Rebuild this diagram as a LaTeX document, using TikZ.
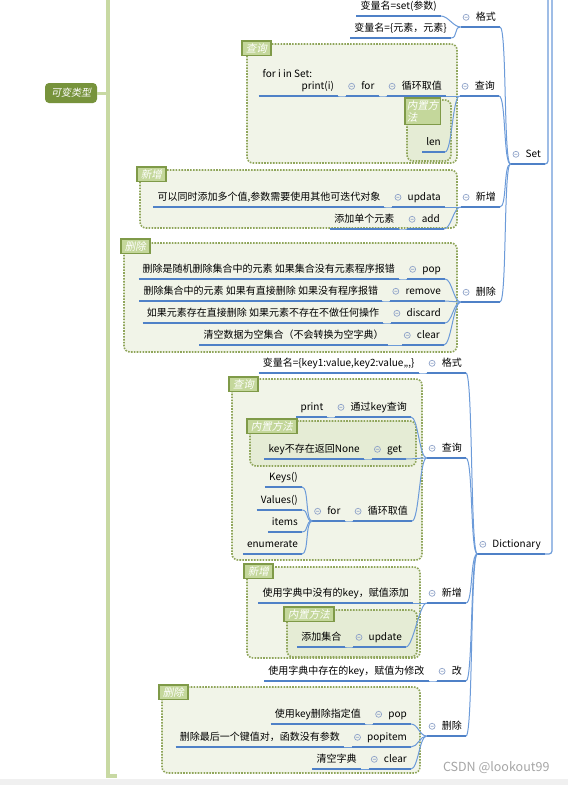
\documentclass[tikz,border=0pt]{standalone}
\usepackage{fontspec}
\setmainfont{Noto Sans CJK SC}
\newfontfamily\slantfont[FakeSlant=0.2]{Noto Sans CJK SC}
\usetikzlibrary{positioning}
\definecolor{rootgreen}{HTML}{77933C}
\definecolor{tabfill}{HTML}{C4D79B}
\definecolor{tabline}{HTML}{7F9A48}
\definecolor{grpfill}{HTML}{F1F4E8}
\definecolor{grpinner}{HTML}{E5ECD5}
\definecolor{grpline}{HTML}{8FA55A}
\definecolor{linkblue}{HTML}{6C9BD9}
\definecolor{ulblue}{HTML}{4F81C7}
\definecolor{foldgray}{HTML}{8FA3C9}
\definecolor{bracegreen}{HTML}{C8D9A3}

\begin{document}
\begin{tikzpicture}[x=1pt, y=-1pt,
    topic/.style={font=\fontsize{10}{12}\selectfont, inner xsep=4pt, inner ysep=4.5pt,
      text height=8pt, text depth=2pt, anchor=south east,
      append after command={(\tikzlastnode.south west) edge[uline] (\tikzlastnode.south east)}},
    parent/.style={topic, execute at begin node={\hspace*{11pt}}},
    uline/.style={draw=ulblue, line width=1.6pt},
    link/.style={draw=linkblue, line width=1pt,
      to path={.. controls +(-7pt,0) and +(7pt,0) .. (\tikztotarget)}},
    stem/.style={draw=linkblue, line width=1.2pt, rounded corners=3pt},
    fold/.style={draw=foldgray, line width=0.7pt},
    grp/.style={draw=grpline, fill=grpfill, line width=1.6pt, dash pattern=on 1.6pt off 1.3pt, rounded corners=6pt},
    grpin/.style={grp, fill=grpinner},
    tab/.style={draw=tabline, fill=tabfill, line width=1.5pt, text=white, anchor=north west,
      font=\slantfont\fontsize{10.5}{12}\selectfont, inner xsep=4pt, inner ysep=2.5pt, align=left},
    root/.style={fill=rootgreen, text=white, rounded corners=4pt, minimum width=52pt, minimum height=20pt,
      font=\slantfont\fontsize{10}{12}\selectfont},
    brace/.style={draw=bracegreen, line width=4pt},
    wmark/.style={anchor=east, text=black!35, font=\fontsize{12.5}{14}\selectfont},
  ]
  \fill[white] (0,0) rectangle (568,785);
  \useasboundingbox (0,0) rectangle (568,785);
  \fill[black!6] (0,779) rectangle (568,785);

  % group boxes
  \draw[grp] (247,44) rectangle (457,163);
  \draw[grpin] (407,100) rectangle (451,161);
  \draw[grp] (140,170) rectangle (457,228);
  \draw[grp] (124,243) rectangle (457,352);
  \draw[grp] (232,379) rectangle (422,560);
  \draw[grpin] (250,421) rectangle (416,466);
  \draw[grp] (247,567) rectangle (420,658);
  \draw[grpin] (287,610) rectangle (417,657);
  \draw[grp] (162,687) rectangle (420,773);

  \node[tab] (tsq) at (241,40) {查询};
  \node[tab, inner xsep=2pt] (tsqin) at (404,97) {内置方\\法};
  \node[tab] (tsadd) at (136,166) {新增};
  \node[tab] (tsdel) at (120,238) {删除};
  \node[tab] (tdq) at (228,376) {查询};
  \node[tab] (tdqin) at (246,418) {内置方法};
  \node[tab] (tdadd) at (243,563) {新增};
  \node[tab] (tdaddin) at (283,606) {内置方法};
  \node[tab] (tddel) at (158,684) {删除};

  % root
  \node[root] (root) at (71,93) {可变类型};
  \coordinate (btop) at (108,0);
  \coordinate (bbot) at (117,776);
  \draw[brace] (btop) |- (bbot);
  \draw[brace, line width=3pt] (root.east) -- (root.east -| btop);

  % Set
  \node[parent] (set) at (545,164) {Set};
  \node[parent] (sfmt) at (500,27) {格式};
  \node[topic] (sfa) at (441,16) {变量名=set(参数)};
  \node[topic] (sfb) at (451,38) {变量名=\{元素，元素\}};
  \node[parent] (sq) at (499,96) {查询};
  \node[parent] (sqa) at (446,96) {循环取值};
  \node[parent, left=8pt of sqa] (sqb) {for};
  \node[topic, text height={}, text depth={}, align=left] (sqc) at ([xshift=-8pt]sqb.south west)
    {for i in Set:\\\hspace*{39pt}print(i)};
  \node[topic] (slen) at (445,152) {len};
  \node[parent] (sadd) at (500,207) {新增};
  \node[parent] (supd) at (445,207) {updata};
  \node[topic, left=8pt of supd] (supdt) {可以同时添加多个值,参数需要使用其他可迭代对象};
  \node[parent] (sad) at (444,229) {add};
  \node[topic, left=8pt of sad] (sadt) {添加单个元素};
  \node[parent] (sdel) at (500,302) {删除};
  \node[parent] (spop) at (445,279) {pop};
  \node[topic, left=8pt of spop] (spopt) {删除是随机删除集合中的元素 如果集合没有元素程序报错};
  \node[parent] (srem) at (445,301) {remove};
  \node[topic, left=8pt of srem] (sremt) {删除集合中的元素 如果有直接删除 如果没有程序报错};
  \node[parent] (sdis) at (445,323) {discard};
  \node[topic, left=8pt of sdis] (sdist) {如果元素存在直接删除 如果元素不存在不做任何操作};
  \node[parent] (sclr) at (444,345) {clear};
  \node[topic, left=14pt of sclr] (sclrt) {清空数据为空集合（不会转换为空字典）};

  % Dictionary
  \node[parent] (dict) at (545,554) {Dictionary};
  \node[parent] (dfmt) at (466,373) {格式};
  \node[topic, left=8pt of dfmt] (dfmta) {变量名=\{key1:value,key2:value,,,\}};
  \node[parent] (dq) at (466,458) {查询};
  \node[parent] (dqa) at (411,417) {通过key查询};
  \node[topic, left=8pt of dqa] (dqat) {print};
  \node[parent] (dget) at (406,459) {get};
  \node[topic, left=8pt of dget] (dgett) {key不存在返回None};
  \node[parent] (dloop) at (412,521) {循环取值};
  \node[parent, left=8pt of dloop] (dfor) {for};
  \node[topic] (dkeys) at (302,487) {Keys()};
  \node[topic] (dvals) at (302,510) {Values()};
  \node[topic] (ditems) at (302,532) {items};
  \node[topic] (denum) at (302,554) {enumerate};
  \node[parent] (dadd) at (466,603) {新增};
  \node[topic] (dadda) at (413,603) {使用字典中没有的key，赋值添加};
  \node[parent] (dupd) at (406,647) {update};
  \node[topic, left=8pt of dupd] (dupdt) {添加集合};
  \node[parent] (dmod) at (466,681) {改};
  \node[topic, left=8pt of dmod] (dmodt) {使用字典中存在的key，赋值为修改};
  \node[parent] (ddel) at (466,736) {删除};
  \node[parent] (dpop) at (411,724) {pop};
  \node[topic, left=8pt of dpop] (dpopt) {使用key删除指定值};
  \node[parent] (dpopi) at (411,747) {popitem};
  \node[topic, left=8pt of dpopi] (dpopit) {删除最后一个键值对，函数没有参数};
  \node[parent] (dclr) at (411,769) {clear};
  \node[topic, left=8pt of dclr] (dclrt) {清空字典};

  % connectors
  \coordinate (sroot) at (548,0);
  \coordinate (droot) at (552,0);
  \draw[stem] (set.south east) -| (sroot);
  \draw[stem] (dict.south east) -| (droot);
  \foreach \pn/\cn in {set/sfmt, set/sq, set/sadd, set/sdel, sfmt/sfa, sfmt/sfb, sq/sqa, sq/slen,
      sqa/sqb, sqb/sqc, sadd/supd, sadd/sad, supd/supdt, sad/sadt, sdel/spop, sdel/srem,
      sdel/sdis, sdel/sclr, spop/spopt, srem/sremt, sdis/sdist, sclr/sclrt,
      dict/dfmt, dict/dq, dict/dadd, dict/dmod, dict/ddel, dfmt/dfmta, dq/dqa, dq/dget,
      dq/dloop, dqa/dqat, dget/dgett, dloop/dfor, dfor/dkeys, dfor/dvals, dfor/ditems,
      dfor/denum, dadd/dadda, dadd/dupd, dupd/dupdt, dmod/dmodt, ddel/dpop, ddel/dpopi,
      ddel/dclr, dpop/dpopt, dpopi/dpopit, dclr/dclrt}
    \draw[link] (\pn.south west) to (\cn.south east);

  % fold buttons
  \foreach \n in {set, sfmt, sq, sqa, sqb, sadd, supd, sad, sdel, spop, srem, sdis, sclr,
      dict, dfmt, dq, dqa, dget, dloop, dfor, dadd, dupd, dmod, ddel, dpop, dpopi, dclr}
    \draw[fold] ([xshift=5.5pt]\n.west) circle[radius=3pt] +(-1.5pt,0) -- +(1.5pt,0);

  \node[wmark] (wm) at (553,768) {CSDN @lookout99};
\end{tikzpicture}
\end{document}
